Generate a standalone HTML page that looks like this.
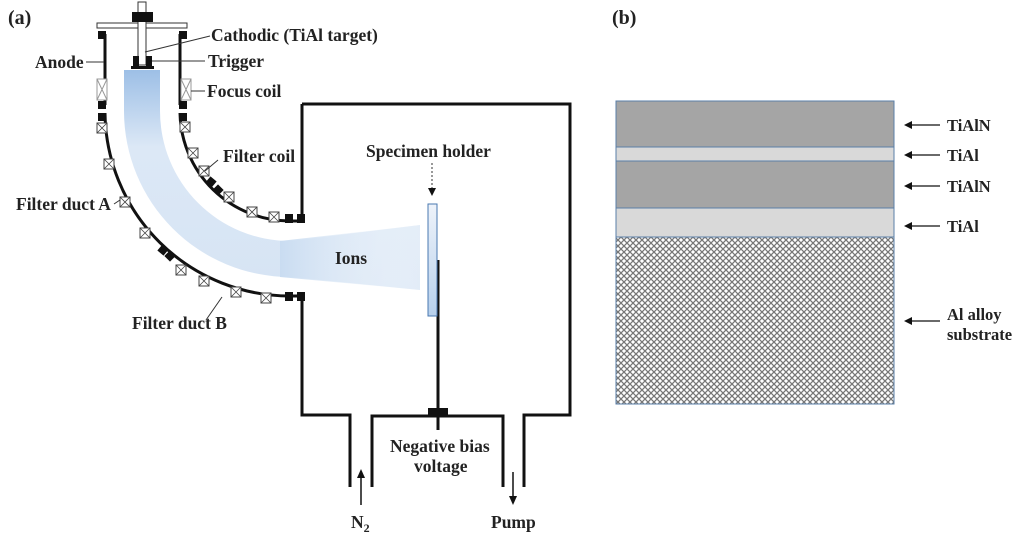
<!DOCTYPE html>
<html><head><style>body{margin:0;background:#fff}svg{display:block}text{font-family:"Liberation Serif",serif;font-weight:bold;fill:#222}</style></head><body>
<svg width="1024" height="536" viewBox="0 0 1024 536" xmlns="http://www.w3.org/2000/svg">
<defs>
<linearGradient id="bv" x1="0" y1="0" x2="0" y2="1"><stop offset="0" stop-color="#9dbfe6"/><stop offset="0.35" stop-color="#dce8f6"/><stop offset="1" stop-color="#d6e4f4"/></linearGradient>
<linearGradient id="bh" x1="0" y1="0" x2="1" y2="0"><stop offset="0" stop-color="#c9dcf1"/><stop offset="1" stop-color="#ffffff" stop-opacity="0.3"/></linearGradient>
<linearGradient id="sh" x1="0" y1="0" x2="0" y2="1"><stop offset="0" stop-color="#eef3fa"/><stop offset="1" stop-color="#b7d0ec"/></linearGradient>
<pattern id="hx" width="6" height="6" patternUnits="userSpaceOnUse"><rect width="6" height="6" fill="#fff"/><path d="M0 0L6 6M6 0L0 6" stroke="#777" stroke-width="1.3"/></pattern>
<g id="coil"><rect x="-5" y="-5" width="10" height="10" fill="#fff" stroke="#444" stroke-width="1"/><path d="M-5 -5L5 5M5 -5L-5 5" stroke="#444" stroke-width="0.8"/></g>
</defs>
<text x="8" y="24" font-size="20">(a)</text>
<text x="612" y="24" font-size="20">(b)</text>
<path d="M124 70 H160 V111 A130 130 0 0 0 290 241 L420 225 V290 L290 277 A166 166 0 0 1 124 111 Z" fill="url(#bv)"/>
<path d="M280 241 L420 225 V290 L280 277 Z" fill="url(#bh)"/>
<rect x="97" y="23" width="90" height="5" fill="#fff" stroke="#333"/>
<rect x="138" y="2" width="8" height="63" fill="#fff" stroke="#333"/>
<rect x="132" y="12" width="21" height="10" fill="#111"/>
<rect x="133" y="56" width="6" height="11" fill="#111"/><rect x="146" y="56" width="6" height="11" fill="#111"/><rect x="131" y="66" width="23" height="3" fill="#111"/>
<g fill="none" stroke="#111" stroke-width="3">
<path d="M105 34 V105"/><path d="M180 34 V105"/>
<path d="M105 113 A185 185 0 0 0 290 296 H298"/>
<path d="M180 113 A110 110 0 0 0 290 221 H298"/>
<path d="M302 104 H570 V415 H524 V487"/>
<path d="M302 104 V218"/><path d="M302 298 V415 H350 V487"/>
<path d="M372 487 V416 H503 V487"/>
<path d="M438 260 V430"/>
</g>
<g fill="#111">
<rect x="98" y="31" width="8" height="8"/><rect x="179" y="31" width="8" height="8"/>
<rect x="98" y="101" width="8" height="8"/><rect x="179" y="101" width="8" height="8"/>
<rect x="98" y="113" width="8" height="8"/><rect x="179" y="113" width="8" height="8"/>
<rect x="285" y="214" width="8" height="9"/><rect x="297" y="214" width="8" height="9"/>
<rect x="285" y="292" width="8" height="9"/><rect x="297" y="292" width="8" height="9"/>
<rect x="428" y="408" width="20" height="9"/>
<rect x="207" y="178" width="8" height="8" transform="rotate(40 211 182)"/>
<rect x="214" y="186" width="8" height="8" transform="rotate(45 218 190)"/>
<rect x="159" y="246" width="8" height="8" transform="rotate(40 163 250)"/>
<rect x="166" y="252" width="8" height="8" transform="rotate(45 170 256)"/>
</g>
<g stroke="#999" fill="#fff" stroke-width="1"><rect x="97" y="79" width="10" height="21"/><rect x="181" y="79" width="10" height="21"/>
<path d="M97 79L107 100M107 79L97 100M181 79L191 100M191 79L181 100" fill="none"/></g>
<use href="#coil" x="102" y="128"/><use href="#coil" x="109" y="164"/><use href="#coil" x="125" y="202"/><use href="#coil" x="145" y="233"/>
<use href="#coil" x="181" y="270"/><use href="#coil" x="204" y="281"/><use href="#coil" x="236" y="292"/><use href="#coil" x="266" y="298"/>
<use href="#coil" x="185" y="127"/><use href="#coil" x="193" y="153"/><use href="#coil" x="204" y="171"/><use href="#coil" x="229" y="197"/><use href="#coil" x="252" y="212"/><use href="#coil" x="274" y="217"/>
<rect x="428" y="204" width="9" height="112" fill="url(#sh)" stroke="#4a78b0" stroke-width="1"/>
<path d="M432 163 V188" stroke="#333" stroke-dasharray="2 2"/><path d="M428 188 L432 196 L436 188Z" fill="#111"/>
<path d="M361 505 V476" stroke="#111" stroke-width="1.5"/><path d="M357 478 L361 469 L365 478Z" fill="#111"/>
<path d="M513 472 V498" stroke="#111" stroke-width="1.5"/><path d="M509 496 L513 505 L517 496Z" fill="#111"/>
<g stroke="#333" stroke-width="1" fill="none">
<path d="M145 52 L210 36"/><path d="M152 61 H205"/><path d="M86 62 H104"/><path d="M191 91 H205"/>
<path d="M205 171 L218 160"/><path d="M114 204 L120 200"/><path d="M206 320 L222 297"/>
</g>
<g font-size="17.5">
<text x="211" y="41">Cathodic (TiAl target)</text>
<text x="208" y="67">Trigger</text>
<text x="35" y="68">Anode</text>
<text x="207" y="97">Focus coil</text>
<text x="223" y="162">Filter coil</text>
<text x="16" y="210">Filter duct A</text>
<text x="132" y="329">Filter duct B</text>
<text x="366" y="157">Specimen holder</text>
<text x="335" y="264">Ions</text>
<text x="390" y="452">Negative bias</text>
<text x="414" y="472">voltage</text>
<text x="351" y="528">N<tspan font-size="12" dy="4">2</tspan></text>
<text x="491" y="528">Pump</text>
</g>
<rect x="616" y="237" width="278" height="167" fill="url(#hx)"/>
<g stroke="#5a7fa8" stroke-width="1">
<rect x="616" y="101" width="278" height="46" fill="#a5a5a5"/>
<rect x="616" y="147" width="278" height="14" fill="#d9d9d9"/>
<rect x="616" y="161" width="278" height="47" fill="#a5a5a5"/>
<rect x="616" y="208" width="278" height="29" fill="#d9d9d9"/>
<rect x="616" y="237" width="278" height="167" fill="none"/>
</g>
<g stroke="#111" stroke-width="1.3">
<path d="M910 125 H940"/><path d="M910 155 H940"/><path d="M910 186 H940"/><path d="M910 226 H940"/><path d="M910 321 H940"/>
</g>
<g fill="#111"><path d="M904 125l8-4v8z"/><path d="M904 155l8-4v8z"/><path d="M904 186l8-4v8z"/><path d="M904 226l8-4v8z"/><path d="M904 321l8-4v8z"/></g>
<g font-size="16.5">
<text x="947" y="131">TiAlN</text><text x="947" y="161">TiAl</text><text x="947" y="192">TiAlN</text><text x="947" y="232">TiAl</text>
<text x="947" y="320">Al alloy</text><text x="947" y="340">substrate</text>
</g>
</svg>
</body></html>
